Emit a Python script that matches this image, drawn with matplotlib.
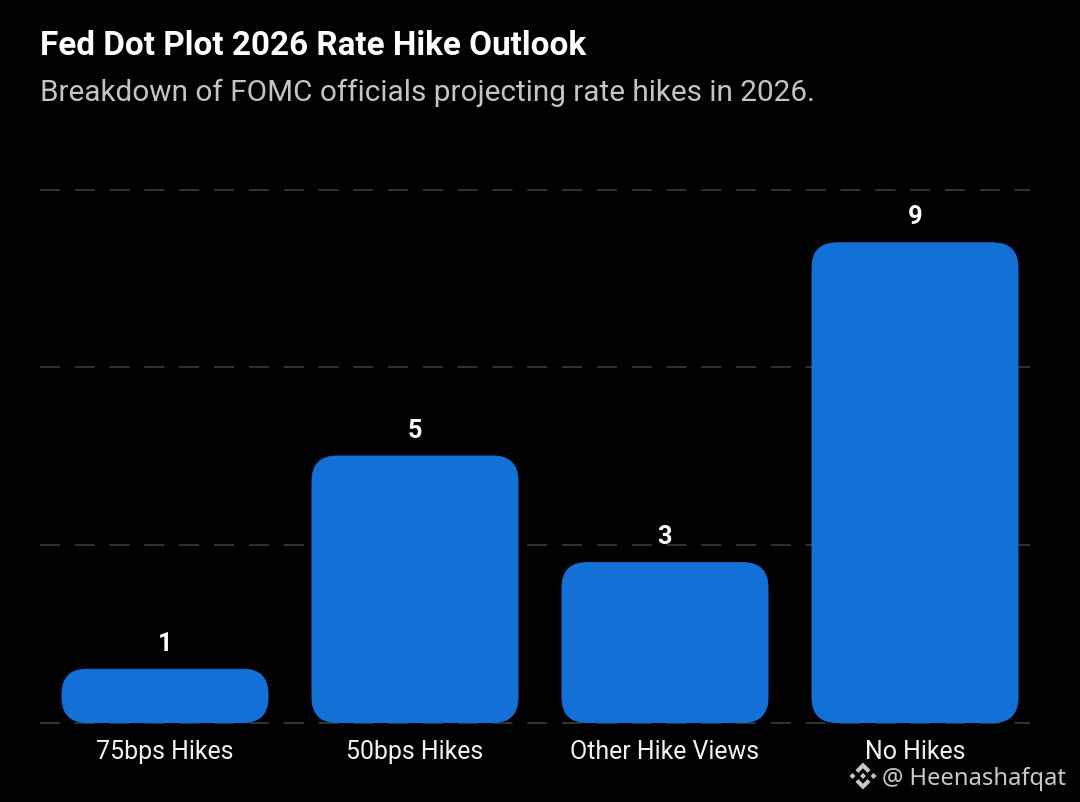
import matplotlib
matplotlib.use("Agg")
import matplotlib.pyplot as plt
from matplotlib.patches import FancyBboxPatch, Polygon
from matplotlib.transforms import IdentityTransform

plt.rcParams['font.family'] = ['Roboto', 'DejaVu Sans']

# data
categorias = ["75bps Hikes", "50bps Hikes", "Other Hike Views", "No Hikes"]
valores = [1, 5, 3, 9]
grid_y = [0, 10 / 3, 20 / 3, 10]

W, H = 1080, 803
azul = "#1270d6"

fig = plt.figure(figsize=(W / 100, H / 100), dpi=100, facecolor="black")
# axes: x from 40 to 1030 px, y from 722 (0) to 189 (10)
ax = fig.add_axes([40 / W, 1 - 723.5 / H, 990 / W, 533 / H], facecolor="black")
ax.set_xlim(-0.5, 3.46)
ax.set_ylim(0, 10)

for y in grid_y:
    ax.axhline(y, color="#333333", lw=1.4, dashes=(10.3, 7.6), zorder=1, clip_on=False)

# rounded bars
ancho = 0.824
radio = 0.1
aspecto = (10 / 533) / (3.96 / 990)
for i, v in enumerate(valores):
    barra = FancyBboxPatch((i - ancho / 2, 0), ancho, v,
                           boxstyle=f"round,pad=0,rounding_size={radio}",
                           mutation_aspect=aspecto, fc=azul, ec=azul, lw=0.7, zorder=2,
                           clip_on=False)
    ax.add_patch(barra)
    ax.text(i, v + 0.27, str(v), color="white", fontsize=18.3, fontweight="bold",
            ha="center", va="bottom", zorder=3)

ax.set_xticks(range(len(categorias)))
ax.set_xticklabels(categorias, color="#f2f2f2", fontsize=17.9)
ax.tick_params(axis="x", length=0, pad=12.2)
ax.set_yticks([])
for s in ax.spines.values():
    s.set_visible(False)

fig.text(40 / W, 1 - 55 / H, "Fed Dot Plot 2026 Rate Hike Outlook", color="white",
         fontsize=23.95, fontweight="bold", ha="left", va="baseline")
fig.text(40 / W, 1 - 101 / H, "Breakdown of FOMC officials projecting rate hikes in 2026.",
         color="#c4c4c4", fontsize=21.45, ha="left", va="baseline")

# watermark
gris = "#c8c8c8"
fig.text(882 / W, 1 - 785 / H, "@ Heenashafqat", color=gris, fontsize=17.1,
         ha="left", va="baseline", family=["Noto Sans", "DejaVu Sans"])

cx, cy = 863, H - 777
formas = [
    [(0, 3), (3, 0), (0, -3), (-3, 0)],
    [(-13.5, 0), (-10.5, 3), (-7.5, 0), (-10.5, -3)],
    [(13.5, 0), (10.5, 3), (7.5, 0), (10.5, -3)],
    [(0, 13.5), (7.5, 6), (4.6, 3.1), (0, 7.7), (-4.6, 3.1), (-7.5, 6)],
    [(0, -13.5), (7.5, -6), (4.6, -3.1), (0, -7.7), (-4.6, -3.1), (-7.5, -6)],
]
for f in formas:
    fig.add_artist(Polygon([(cx + x, cy + y) for x, y in f], closed=True, fc=gris, ec="none",
                           transform=IdentityTransform()))

fig.savefig("out.png", dpi=100, facecolor="black")
